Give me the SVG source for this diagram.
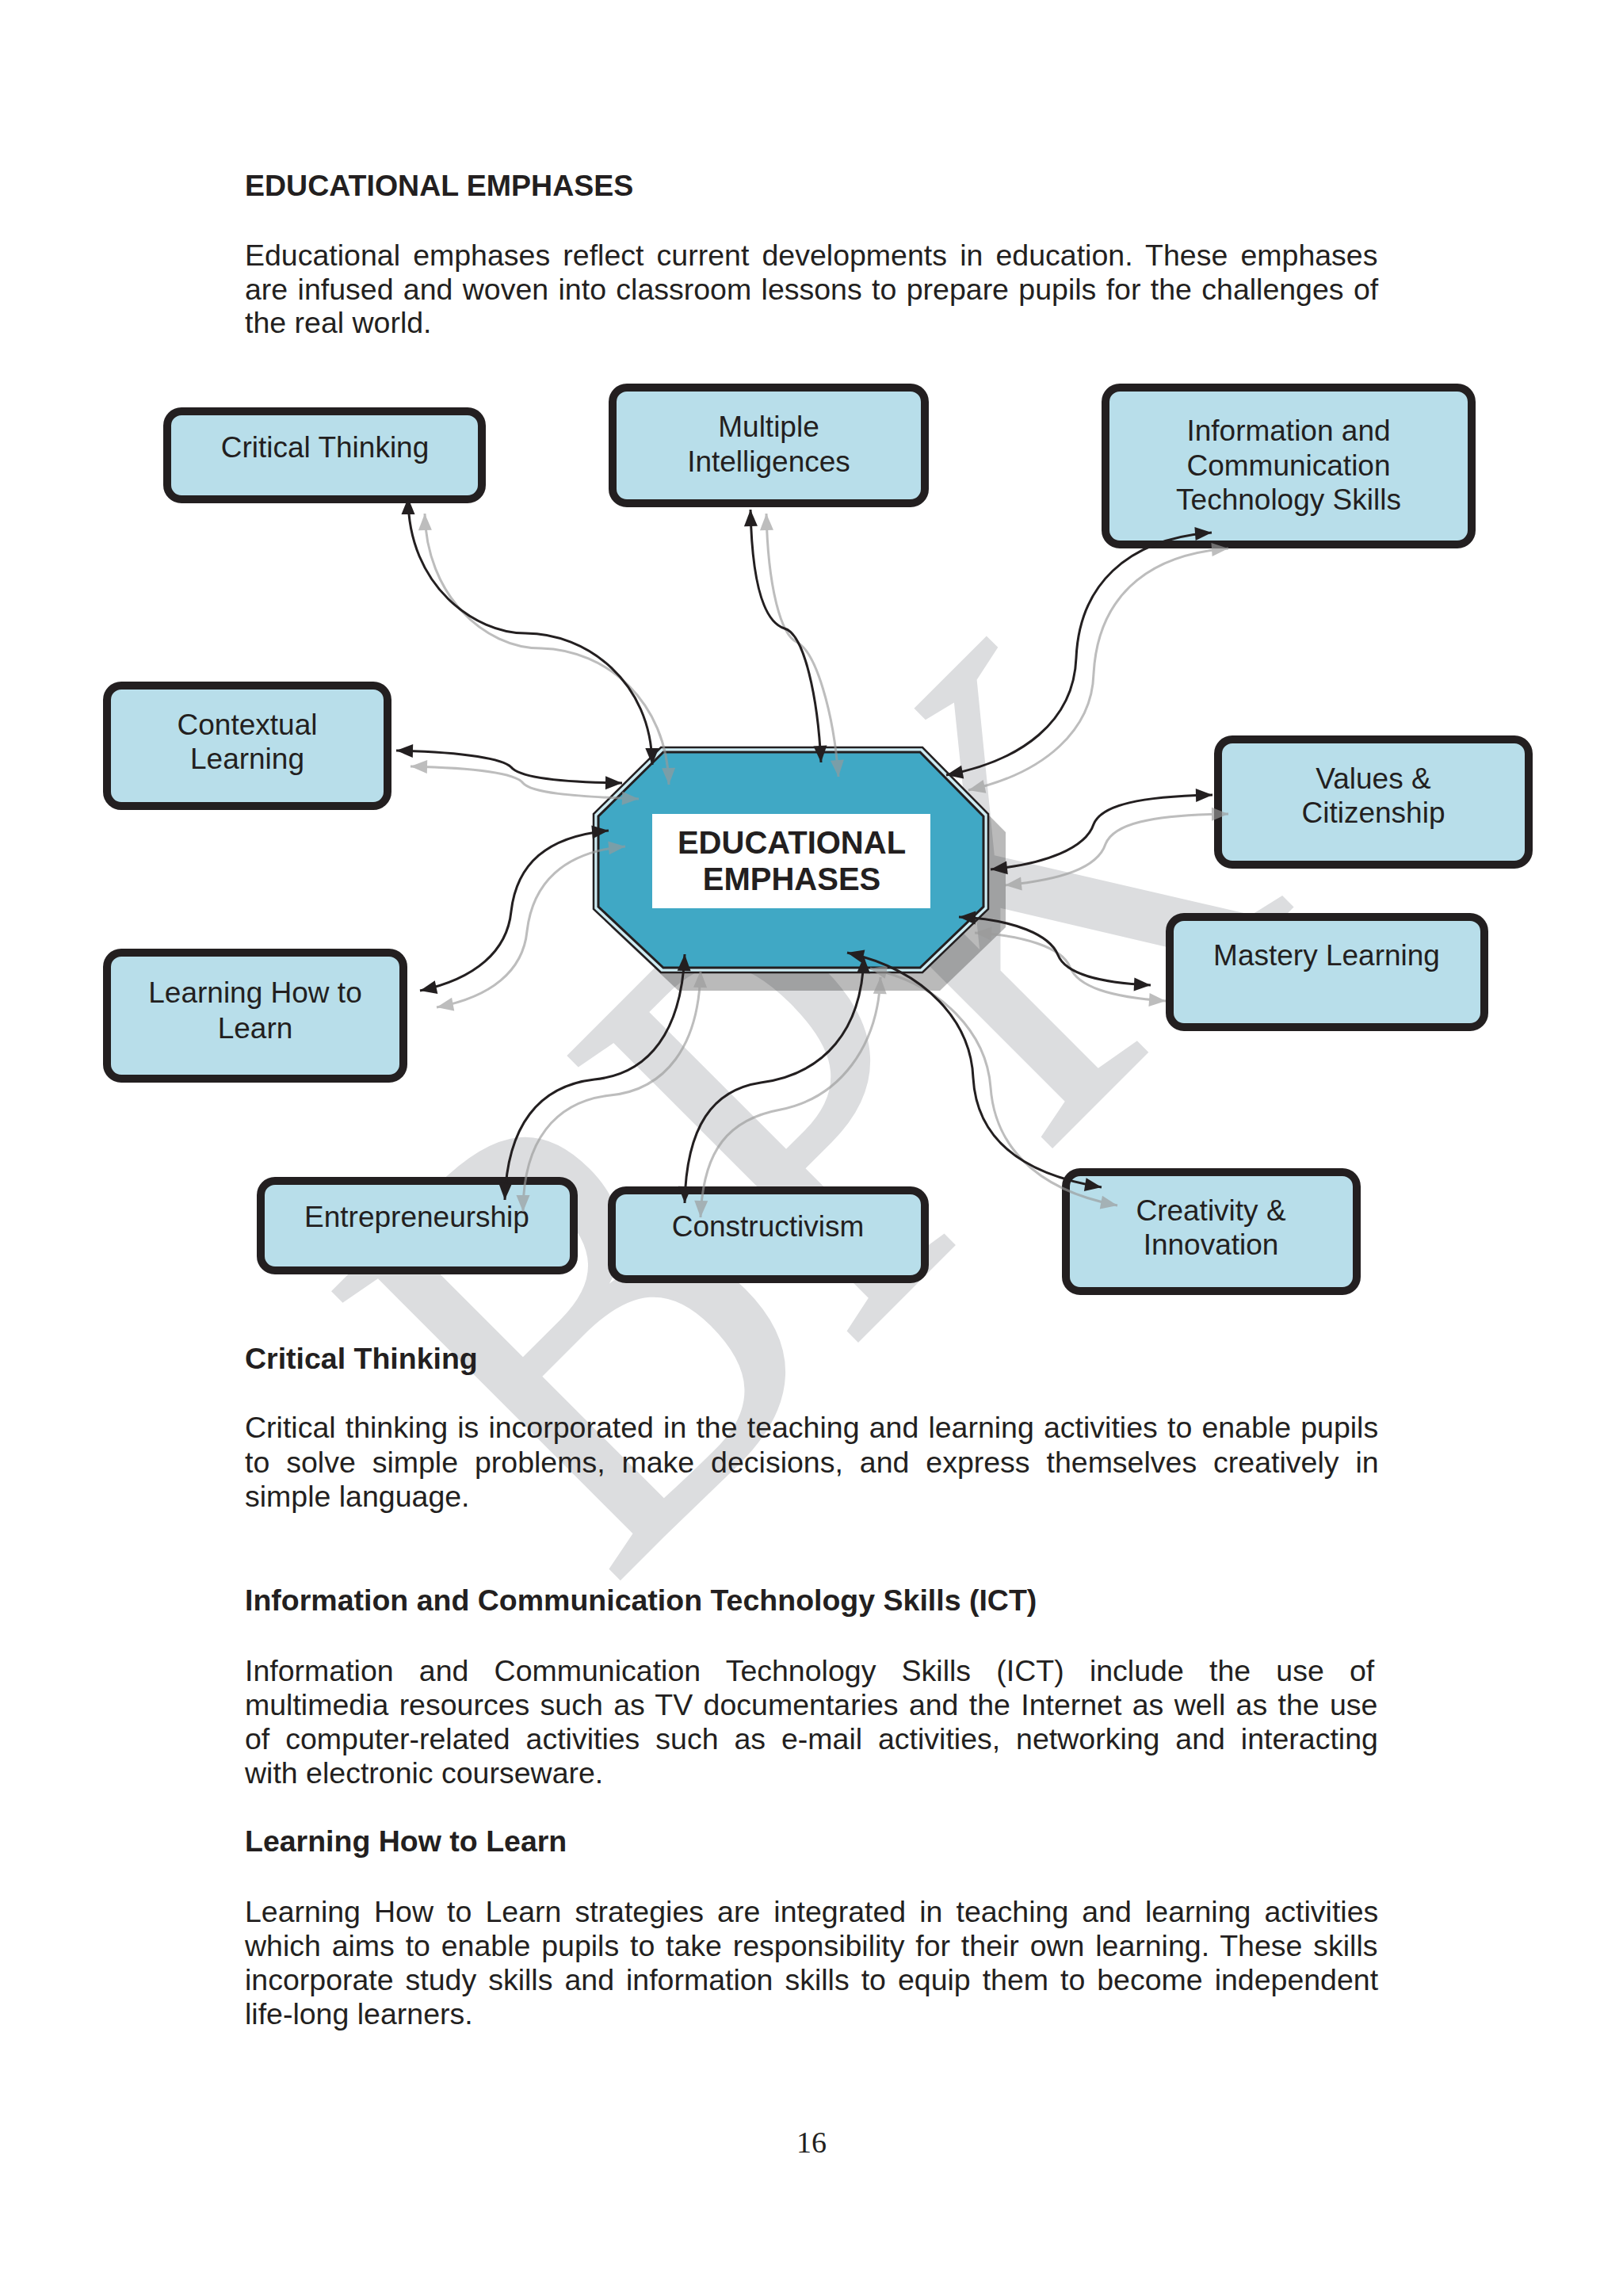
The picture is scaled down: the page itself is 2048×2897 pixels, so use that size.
<svg xmlns="http://www.w3.org/2000/svg" width="2048" height="2897" viewBox="0 0 2048 2897">
<style>
.t{font-family:"Liberation Sans",Arial,sans-serif;font-size:37.5px;fill:#231f20}
.h{font-family:"Liberation Sans",Arial,sans-serif;font-size:37.5px;font-weight:bold;fill:#231f20}
.nt{font-family:"Liberation Sans",Arial,sans-serif;font-size:37px;fill:#231f20;text-anchor:middle}
.box{fill:#b8deea;stroke:#231f20;stroke-width:10}
.ck{fill:none;stroke:#231f20;stroke-width:3;marker-start:url(#ak);marker-end:url(#ak)}
.cg{fill:none;stroke:#9a9a9a;stroke-width:3;marker-start:url(#ag);marker-end:url(#ag)}
</style>
<defs>
<marker id="ak" viewBox="-23 -10 25 20" refX="0" refY="0" markerWidth="25" markerHeight="20" markerUnits="userSpaceOnUse" orient="auto-start-reverse"><path d="M0,0 L-21,-8.5 L-21,8.5 Z" fill="#231f20"/></marker>
<marker id="ag" viewBox="-23 -10 25 20" refX="0" refY="0" markerWidth="25" markerHeight="20" markerUnits="userSpaceOnUse" orient="auto-start-reverse"><path d="M0,0 L-21,-8.5 L-21,8.5 Z" fill="#9a9a9a"/></marker>
</defs>
<rect x="0" y="0" width="2048" height="2897" fill="#ffffff"/>
<text transform="translate(770,2007) rotate(-45) scale(0.8,1)" x="0" y="0" font-family="Liberation Serif, Times New Roman, serif" font-size="788" fill="#dcdddf">BPK</text>

<text class="h" x="309" y="247">EDUCATIONAL EMPHASES</text>
<text class="t" x="309" y="335" word-spacing="5.75">Educational emphases reflect current developments in education. These emphases</text>
<text class="t" x="309" y="378" word-spacing="1.94">are infused and woven into classroom lessons to prepare pupils for the challenges of</text>
<text class="t" x="309" y="420">the real world.</text>

<g id="center">
<polygon points="856,966 1186,966 1269,1050 1269,1170 1186,1250 856,1250 771,1170 771,1050" fill="#000" opacity="0.27"/>
<polygon points="834,943 1164,943 1247,1027 1247,1147 1164,1227 834,1227 749,1147 749,1027" fill="#cdebf2" stroke="#231f20" stroke-width="2.5"/>
<polygon points="837,949 1161,949 1241,1030 1241,1144 1161,1221 837,1221 755,1144 755,1030" fill="#40a8c5" stroke="#231f20" stroke-width="3"/>
<rect x="823" y="1027" width="351" height="119" fill="#ffffff"/>
<text x="999" y="1077" font-family="Liberation Sans, Arial, sans-serif" font-size="40" font-weight="bold" fill="#231f20" text-anchor="middle">EDUCATIONAL</text>
<text x="999" y="1123" font-family="Liberation Sans, Arial, sans-serif" font-size="40" font-weight="bold" fill="#231f20" text-anchor="middle">EMPHASES</text>
</g>

<g id="critical-thinking"><rect class="box" x="211" y="519" width="397" height="111" rx="18"/><text class="nt" x="410" y="577">Critical Thinking</text></g>
<g id="multiple-intelligences"><rect class="box" x="773" y="489" width="394" height="146" rx="18"/><text class="nt" x="970" y="551">Multiple</text><text class="nt" x="970" y="595">Intelligences</text></g>
<g id="ict"><rect class="box" x="1395" y="489" width="462" height="198" rx="18"/><text class="nt" x="1626" y="556">Information and</text><text class="nt" x="1626" y="600">Communication</text><text class="nt" x="1626" y="643">Technology Skills</text></g>
<g id="contextual-learning"><rect class="box" x="135" y="865" width="354" height="152" rx="18"/><text class="nt" x="312" y="927">Contextual</text><text class="nt" x="312" y="970">Learning</text></g>
<g id="values-citizenship"><rect class="box" x="1537" y="933" width="392" height="158" rx="18"/><text class="nt" x="1733" y="995">Values &amp;</text><text class="nt" x="1733" y="1038">Citizenship</text></g>
<g id="mastery-learning"><rect class="box" x="1476" y="1157" width="397" height="139" rx="18"/><text class="nt" x="1674" y="1218">Mastery Learning</text></g>
<g id="learning-how-to-learn"><rect class="box" x="135" y="1202" width="374" height="159" rx="18"/><text class="nt" x="322" y="1265">Learning How to</text><text class="nt" x="322" y="1310">Learn</text></g>
<g id="entrepreneurship"><rect class="box" x="329" y="1490" width="395" height="113" rx="18"/><text class="nt" x="526" y="1548">Entrepreneurship</text></g>
<g id="constructivism"><rect class="box" x="772" y="1502" width="395" height="112" rx="18"/><text class="nt" x="969" y="1560">Constructivism</text></g>
<g id="creativity-innovation"><rect class="box" x="1345" y="1479" width="367" height="150" rx="18"/><text class="nt" x="1528" y="1540">Creativity &amp;</text><text class="nt" x="1528" y="1583">Innovation</text></g>

<g id="connectors">
<g opacity="0.65">
<path class="cg" d="M536,648 C538,750 610,818 683,818 C765,820 842,885 844,990"/>
<path class="cg" d="M967,648 C969,740 985,800 1005,810 C1030,822 1052,900 1058,980"/>
<path class="cg" d="M1550,692 C1440,700 1385,760 1380,850 C1378,920 1320,975 1222,997"/>
<path class="cg" d="M518,967 C600,969 650,975 660,988 C670,1000 720,1005 806,1008"/>
<path class="cg" d="M1550,1027 C1450,1028 1405,1040 1395,1065 C1385,1095 1340,1110 1268,1117"/>
<path class="cg" d="M1230,1177 C1290,1180 1340,1195 1350,1220 C1360,1245 1400,1258 1471,1263"/>
<path class="cg" d="M551,1271 C620,1258 660,1225 665,1175 C672,1115 710,1075 789,1068"/>
<path class="cg" d="M884,1225 C882,1320 840,1375 770,1382 C700,1390 660,1440 660,1529"/>
<path class="cg" d="M1111,1233 C1108,1320 1060,1385 985,1400 C920,1412 887,1450 884,1536"/>
<path class="cg" d="M1098,1222 C1190,1242 1245,1305 1250,1372 C1255,1440 1300,1500 1410,1521"/>
</g>
<path class="ck" d="M515,628 C515,740 600,799 663,799 C740,799 822,860 823,965"/>
<path class="ck" d="M947,643 C949,740 965,785 990,793 C1015,800 1032,880 1036,962"/>
<path class="ck" d="M1529,672 C1420,680 1362,740 1358,830 C1355,910 1290,960 1194,978"/>
<path class="ck" d="M500,947 C590,949 635,958 645,968 C655,980 700,987 785,988"/>
<path class="ck" d="M1530,1003 C1440,1005 1390,1015 1380,1040 C1370,1070 1320,1090 1250,1097"/>
<path class="ck" d="M1210,1157 C1280,1160 1325,1180 1335,1205 C1345,1230 1390,1240 1452,1243"/>
<path class="ck" d="M530,1250 C600,1235 640,1200 645,1150 C652,1090 690,1055 768,1048"/>
<path class="ck" d="M864,1204 C860,1300 820,1355 750,1362 C680,1370 640,1420 637,1514"/>
<path class="ck" d="M1090,1207 C1088,1300 1040,1355 960,1366 C900,1375 866,1420 864,1518"/>
<path class="ck" d="M1069,1202 C1170,1225 1225,1290 1228,1360 C1232,1430 1280,1480 1390,1498"/>
</g>

<text class="h" x="309" y="1727">Critical Thinking</text>
<text class="t" x="309" y="1814" word-spacing="1.75">Critical thinking is incorporated in the teaching and learning activities to enable pupils</text>
<text class="t" x="309" y="1858" word-spacing="10.5">to solve simple problems, make decisions, and express themselves creatively in</text>
<text class="t" x="309" y="1901">simple language.</text>

<text class="h" x="309" y="2032">Information and Communication Technology Skills (ICT)</text>
<text class="t" x="309" y="2121" word-spacing="21.8">Information and Communication Technology Skills (ICT) include the use of</text>
<text class="t" x="309" y="2164" word-spacing="2.9">multimedia resources such as TV documentaries and the Internet as well as the use</text>
<text class="t" x="309" y="2207" word-spacing="9.5">of computer-related activities such as e-mail activities, networking and interacting</text>
<text class="t" x="309" y="2250">with electronic courseware.</text>

<text class="h" x="309" y="2336">Learning How to Learn</text>
<text class="t" x="309" y="2425" word-spacing="6.65">Learning How to Learn strategies are integrated in teaching and learning activities</text>
<text class="t" x="309" y="2468" word-spacing="3.39">which aims to enable pupils to take responsibility for their own learning. These skills</text>
<text class="t" x="309" y="2511" word-spacing="4.56">incorporate study skills and information skills to equip them to become independent</text>
<text class="t" x="309" y="2554">life-long learners.</text>

<text x="1024" y="2716" font-family="Liberation Serif, Times New Roman, serif" font-size="38" fill="#231f20" text-anchor="middle">16</text>
</svg>
